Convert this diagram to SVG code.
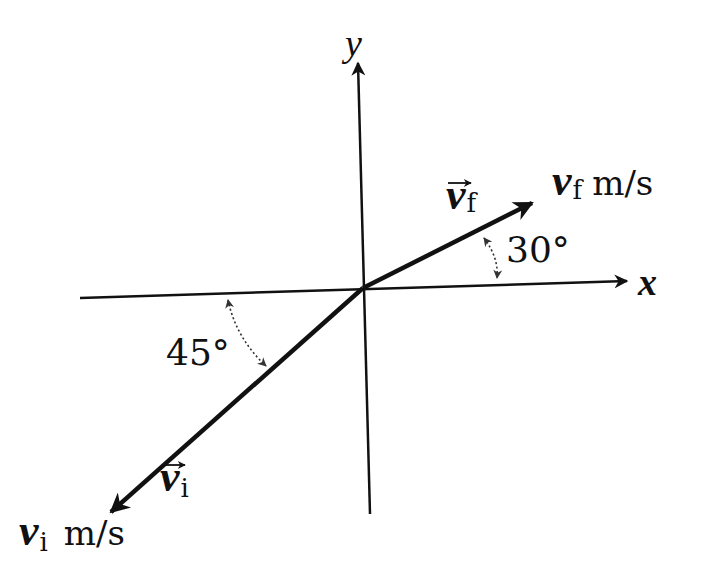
<svg xmlns="http://www.w3.org/2000/svg" width="701" height="583" viewBox="0 0 701 583">
<style>
.ax{stroke:#111;stroke-width:2.5;fill:none}
.vec{stroke:#111;stroke-width:4.5;fill:none}
.arc{stroke:#333;stroke-width:1.6;fill:none;stroke-dasharray:2 2.5}
.t{font-family:"DejaVu Serif","Liberation Serif",serif;fill:#111}
.v{font-family:"Liberation Serif",serif;font-style:italic;font-weight:bold;fill:#111}
.s{font-family:"DejaVu Serif","Liberation Serif",serif;font-style:normal;font-weight:normal}
.vl{stroke:#111;stroke-width:1.8}
</style>
<defs>
<marker id="ah" viewBox="0 0 10 10" refX="9" refY="5" markerWidth="9" markerHeight="8" markerUnits="userSpaceOnUse" orient="auto"><path d="M0,0 L10,5 L0,10 L3,5 Z" fill="#111"/></marker>
<marker id="axh" viewBox="0 0 10 10" refX="9" refY="5" markerWidth="18" markerHeight="14" markerUnits="userSpaceOnUse" orient="auto"><path d="M0,0 L10,5 L0,10 L3,5 Z" fill="#111"/></marker>
<marker id="vh" viewBox="0 0 10 10" refX="9" refY="5" markerWidth="28" markerHeight="20" markerUnits="userSpaceOnUse" orient="auto"><path d="M0,0 L10,5 L0,10 L3,5 Z" fill="#111"/></marker>
<marker id="sh" viewBox="0 0 10 10" refX="9" refY="5" markerWidth="10" markerHeight="9" markerUnits="userSpaceOnUse" orient="auto-start-reverse"><path d="M0,0 L10,5 L0,10 L3,5 Z" fill="#333"/></marker>
</defs>
<g id="connectors">
<line id="x-axis" class="ax" x1="80" y1="298" x2="627" y2="281" marker-end="url(#axh)"/>
<line id="y-axis" class="ax" x1="370" y1="514" x2="358" y2="63" marker-end="url(#axh)"/>
<line id="vf-vector" class="vec" x1="363" y1="288" x2="532" y2="203" marker-end="url(#vh)"/>
<line id="vi-vector" class="vec" x1="363" y1="288" x2="111" y2="512" marker-end="url(#vh)"/>
<path id="arc30" class="arc" d="M484,238 Q499,258 497,278" marker-start="url(#sh)" marker-end="url(#sh)"/>
<path id="arc45" class="arc" d="M228,300 Q236,338 266,366" marker-start="url(#sh)" marker-end="url(#sh)"/>
</g>
<g id="label-y"><text class="v" x="345" y="56" font-size="38" style="font-weight:normal">y</text></g>
<g id="label-x"><text class="v" x="638" y="295" font-size="38">x</text></g>
<g id="label-vf-vec">
<text class="v" x="446" y="209" font-size="44">v<tspan class="s" font-size="26" dx="1" dy="3">f</tspan></text>
<line class="vl" x1="448" y1="183" x2="471" y2="183" marker-end="url(#ah)"/>
</g>
<g id="label-vf">
<text class="v" x="552" y="195" font-size="44">v<tspan class="s" font-size="26" dx="1" dy="4">f</tspan><tspan class="s" font-size="34" dx="10" dy="-4">m/s</tspan></text>
</g>
<g id="label-30"><text class="t" x="506" y="262" font-size="36">30°</text></g>
<g id="label-45"><text class="t" x="166" y="365" font-size="36">45°</text></g>
<g id="label-vi-vec">
<text class="v" x="160" y="491" font-size="44">v<tspan class="s" font-size="26" dx="1" dy="6">i</tspan></text>
<line class="vl" x1="162" y1="465" x2="185" y2="465" marker-end="url(#ah)"/>
</g>
<g id="label-vi">
<text class="v" x="19" y="545" font-size="44">v<tspan class="s" font-size="26" dx="1" dy="6">i</tspan><tspan class="s" font-size="34" dx="16" dy="-6">m/s</tspan></text>
</g>
</svg>
